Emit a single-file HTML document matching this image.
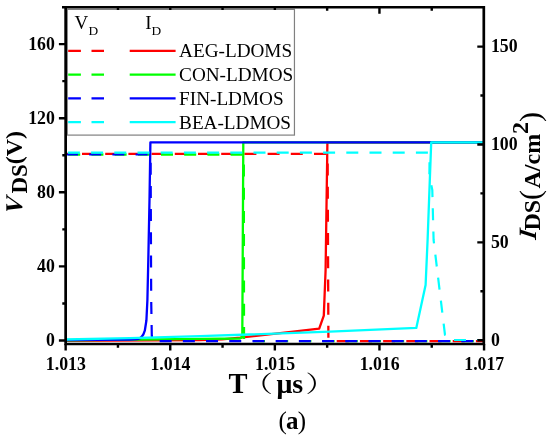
<!DOCTYPE html><html><head><meta charset="utf-8"><style>html,body{margin:0;padding:0;background:#fff;}svg{display:block;}.t{font-family:"Liberation Serif","Noto Serif CJK SC",serif;}.c{font-family:"Liberation Serif","Noto Serif CJK SC",serif;}</style></head><body>
<svg width="550" height="439" viewBox="0 0 550 439">
<rect width="550" height="439" fill="#fff"/>
<path d="M66 153.85 L327.6 153.85 L328.4 338 L328.8 341.1 L483 341.1" fill="none" stroke="#ff0000" stroke-width="2.3" stroke-linejoin="round" stroke-dasharray="12 11.2" stroke-dashoffset="7.2"/>
<path d="M65.7 340.8 L200 340 L222 339.3 L240 337.7 L319.2 328.6 L323.8 315.6 L325.6 270 L327.4 142.4 L483 142.4" fill="none" stroke="#ff0000" stroke-width="2.3" stroke-linejoin="round" />
<path d="M66 154.5 L243.8 154.5 L244 341.1 L483 341.1" fill="none" stroke="#00ff00" stroke-width="2.3" stroke-linejoin="round" stroke-dasharray="12 11.2" stroke-dashoffset="21"/>
<path d="M65.7 340.3 L200 338.8 L240 338.5 L242.3 337 L243.3 142.4 L483 142.4" fill="none" stroke="#00ff00" stroke-width="2.3" stroke-linejoin="round" />
<path d="M66 154.5 L150.6 154.5 L151.2 300 L151.8 336 L152.5 341.1 L483 341.1" fill="none" stroke="#0000ff" stroke-width="2.2" stroke-linejoin="round" stroke-dasharray="12 11.2" stroke-dashoffset="0"/>
<path d="M65.7 340.1 L130 339.6 L137 339.2 L139.5 338.5 L141.5 337 L143.3 334.5 L144.8 330.7 L146.4 320.5 L147.4 300 L148.3 260 L149.5 200 L150.4 142.4 L483 142.4" fill="none" stroke="#0000ff" stroke-width="2.3" stroke-linejoin="round" />
<path d="M66 152.7 L429.6 152.7 L429.4 176 L432.3 190 L433.6 240 L445 335 L448 340 L483 340" fill="none" stroke="#00ffff" stroke-width="2.2" stroke-linejoin="round" stroke-dasharray="12 11.2" stroke-dashoffset="21.3"/>
<path d="M65.2 339.5 L130 338.2 L200 336.2 L330 331.7 L416.3 327.9 L425.6 285 L427.6 240 L431.2 142.4 L483 142.4" fill="none" stroke="#00ffff" stroke-width="2.3" stroke-linejoin="round" />
<rect x="67.3" y="9.4" width="227.15" height="125.7" fill="#fff" stroke="#808080" stroke-width="1.2"/>
<line x1="68.2" y1="50.8" x2="104" y2="50.8" stroke="#ff0000" stroke-width="2.3" stroke-dasharray="12.7 10.6"/>
<line x1="129.7" y1="50.8" x2="175.6" y2="50.8" stroke="#ff0000" stroke-width="2.2"/>
<text class="t" x="179.1" y="57.4" font-size="19.2" fill="#000">AEG-LDOMS</text>
<line x1="68.2" y1="74.6" x2="104" y2="74.6" stroke="#00ff00" stroke-width="2.3" stroke-dasharray="12.7 10.6"/>
<line x1="129.7" y1="74.6" x2="175.6" y2="74.6" stroke="#00ff00" stroke-width="2.2"/>
<text class="t" x="179.1" y="81.2" font-size="19.2" fill="#000">CON-LDMOS</text>
<line x1="68.2" y1="98.4" x2="104" y2="98.4" stroke="#0000ff" stroke-width="2.3" stroke-dasharray="12.7 10.6"/>
<line x1="129.7" y1="98.4" x2="175.6" y2="98.4" stroke="#0000ff" stroke-width="2.2"/>
<text class="t" x="179.1" y="105" font-size="19.2" fill="#000">FIN-LDMOS</text>
<line x1="68.2" y1="122.2" x2="104" y2="122.2" stroke="#00ffff" stroke-width="2.3" stroke-dasharray="12.7 10.6"/>
<line x1="129.7" y1="122.2" x2="175.6" y2="122.2" stroke="#00ffff" stroke-width="2.2"/>
<text class="t" x="179.1" y="128.8" font-size="19.2" fill="#000">BEA-LDMOS</text>
<text class="t" x="74.5" y="29.3" font-size="19" fill="#000">V<tspan x="88.4" font-size="13.4" dy="5.5">D</tspan></text>
<text class="t" x="145.2" y="29.3" font-size="19" fill="#000">I<tspan x="151.5" font-size="13.4" dy="5.5">D</tspan></text>
<path d="M62 7.25 H485.15 M65.65 5.9 V344 H483.8 V5.9" fill="none" stroke="#000" stroke-width="2.7"/>
<path d="M58.9 340.5 H65.65 M58.9 266.4 H65.65 M58.9 192.3 H65.65 M58.9 118.2 H65.65 M58.9 44.1 H65.65 M62.3 303.45 H65.65 M62.3 229.35 H65.65 M62.3 155.25 H65.65 M62.3 81.15 H65.65 M477.3 340.2 H483.8 M477.3 242.35 H483.8 M477.3 144.5 H483.8 M477.3 46.65 H483.8 M480.4 291.27 H483.8 M480.4 193.42 H483.8 M480.4 95.57 H483.8 M65.65 344 V350.6 M170.25 344 V350.6 M274.85 344 V350.6 M379.45 344 V350.6 M484.05 344 V350.6 M117.95 344 V347.8 M117.95 7.25 V9.9 M222.55 344 V347.8 M222.55 7.25 V9.9 M327.15 344 V347.8 M327.15 7.25 V10.8 M431.75 344 V347.8 M431.75 7.25 V10.8 M170.25 7.25 V9.9 M274.85 7.25 V9.9 M379.45 7.25 V13.8" stroke="#000" stroke-width="2.4" fill="none"/>
<text class="t" font-size="17.8" font-weight="bold" fill="#000" x="54.8" y="345.9" text-anchor="end">0</text>
<text class="t" font-size="17.8" font-weight="bold" fill="#000" x="54.8" y="271.8" text-anchor="end">40</text>
<text class="t" font-size="17.8" font-weight="bold" fill="#000" x="54.8" y="197.7" text-anchor="end">80</text>
<text class="t" font-size="17.8" font-weight="bold" fill="#000" x="54.8" y="123.6" text-anchor="end">120</text>
<text class="t" font-size="17.8" font-weight="bold" fill="#000" x="54.8" y="49.5" text-anchor="end">160</text>
<text class="t" font-size="17.8" font-weight="bold" fill="#000" x="490.9" y="345.6">0</text>
<text class="t" font-size="17.8" font-weight="bold" fill="#000" x="490.9" y="247.75">50</text>
<text class="t" font-size="17.8" font-weight="bold" fill="#000" x="490.9" y="149.9">100</text>
<text class="t" font-size="17.8" font-weight="bold" fill="#000" x="490.9" y="52.05">150</text>
<text class="t" font-size="17.8" font-weight="bold" fill="#000" x="65.85" y="370.2" text-anchor="middle">1.013</text>
<text class="t" font-size="17.8" font-weight="bold" fill="#000" x="170.45" y="370.2" text-anchor="middle">1.014</text>
<text class="t" font-size="17.8" font-weight="bold" fill="#000" x="275.05" y="370.2" text-anchor="middle">1.015</text>
<text class="t" font-size="17.8" font-weight="bold" fill="#000" x="379.65" y="370.2" text-anchor="middle">1.016</text>
<text class="t" font-size="17.8" font-weight="bold" fill="#000" x="484.25" y="370.2" text-anchor="middle">1.017</text>
<text class="t" transform="translate(22 208.8) rotate(-90) skewX(-17)" x="-7" font-size="24" font-weight="bold" fill="#000">V</text>
<text class="t" transform="translate(22 208.8) rotate(-90)" font-size="24" font-weight="bold" fill="#000"><tspan x="15.2" dy="5.2" font-size="23">DS</tspan><tspan dy="-5.2">(V)</tspan></text>
<text class="t" transform="translate(535.9 239.9) rotate(-90) skewX(-8)" font-size="25" font-weight="bold" font-style="italic" fill="#000">I</text>
<text class="t" transform="translate(535.9 239.9) rotate(-90)" font-size="24" font-weight="bold" fill="#000"><tspan x="9.34" dy="4.4">DS</tspan><tspan font-size="30" font-weight="normal">(</tspan><tspan dx="1.4">A/cm</tspan><tspan dy="-12.4" dx="-0.1">2</tspan><tspan dy="12.4" font-size="30" font-weight="normal">)</tspan></text>
<text class="t" x="228.5" y="392.9" font-size="28.5" font-weight="bold" fill="#000">T</text>
<text class="c" transform="translate(266.75 391.6) scale(1.3 1)" x="-18.26" font-size="23" fill="#000">（</text>
<text class="t" x="276.5" y="393" font-size="28" font-weight="bold" fill="#000">μs</text>
<text class="c" transform="translate(311.6 391.6) scale(1.3 1)" x="-4.74" font-size="23" fill="#000">）</text>
<text class="t" x="278.5" y="428.8" font-size="25" fill="#000" letter-spacing="-0.8">(<tspan font-weight="bold">a</tspan>)</text>
</svg></body></html>
